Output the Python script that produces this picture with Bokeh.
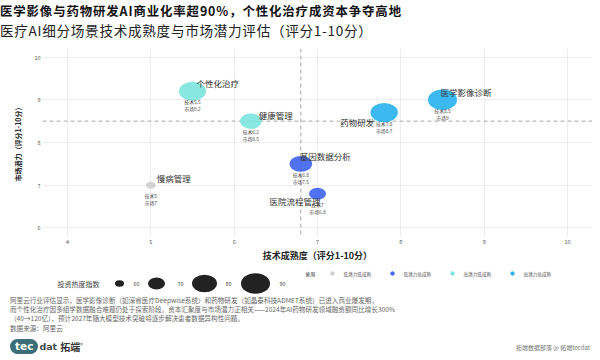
import numpy as np
from bokeh.plotting import figure
from bokeh.models import FixedTicker, Span, ColumnDataSource, LinearInterpolator, Range1d, Div
from bokeh.transform import transform, factor_cmap
from bokeh.layouts import column
from bokeh.embed import file_html
from bokeh.resources import INLINE
from bokeh.core.properties import value

# ---------------- data ----------------
scenes = ["医学影像诊断", "药物研发", "个性化治疗", "健康管理", "基因数据分析", "医院流程管理", "慢病管理"]
tech = [8.5, 7.8, 5.5, 6.2, 6.8, 7.0, 5.0]
market = [9.0, 8.7, 9.2, 8.5, 7.5, 6.8, 7.0]
invest = [90, 86, 85, 76, 77, 70, 61]
quadrant = ["高潜力高成熟", "高潜力高成熟", "高潜力低成熟", "高潜力低成熟",
            "低潜力高成熟", "低潜力高成熟", "低潜力低成熟"]
quad_levels = ["低潜力低成熟", "低潜力高成熟", "高潜力低成熟", "高潜力高成熟"]
size_breaks = [60, 70, 80, 90]
x_ticks = [4, 5, 6, 7, 8, 9, 10]
y_ticks = [6, 7, 8, 9, 10]

title = "医学影像与药物研发AI商业化率超90%，个性化治疗成资本争夺高地"
subtitle = "医疗AI细分场景技术成熟度与市场潜力评估（评分1-10分）"
x_label = "技术成熟度（评分1-10分）"
y_label = "市场潜力（评分1-10分）"
size_title = "投资热度指数"
quad_title = "象限"
footer_lines = [
    "阿里云行业评估显示，医学影像诊断（如深睿医疗Deepwise系统）和药物研发（如晶泰科技ADMET系统）已进入商业爆发期，",
    "而个性化治疗因多组学数据融合难题仍处于探索阶段。资本汇聚度与市场潜力正相关——2024年AI药物研发领域融资额同比增长300%",
    "（40→120亿），预计2027年随大模型技术突破将逐步解决患者数据异构性问题。",
    "数据来源：阿里云",
]
credit = "拓端数据部落 @ 拓端tecdat"

# ---------------- styles ----------------
FONT = "Noto Sans CJK SC"
quad_colors = ["#CFCFCF", "#4166F2", "#7EE6DE", "#2DB3F0"]
w_map = LinearInterpolator(x=size_breaks, y=[9, 17, 25, 29])
h_map = LinearInterpolator(x=size_breaks, y=[6.5, 12, 17.5, 20.5])
name_dx = [-2, -10, 4, 8, -1, 3, 6]
name_dy = [-8, 9, -8, -6, -8, 7, -7]
name_align = ["left", "right", "left", "left", "left", "right", "left"]
W = 592
BL, BR = 42, 0          # left / right borders shared by the plot figures

src = ColumnDataSource(dict(
    scene=scenes, tech=tech, market=market, invest=invest, quadrant=quadrant,
    t_lab=[f"技术{t:g}" for t in tech], m_lab=[f"市场{m:g}" for m in market],
    dx=name_dx, dy=name_dy, align=name_align,
))


def line_div(top, h, size, txt, color, weight="normal", left=0, align="left", extra=""):
    pos = f"left:{left}px;" if align == "left" else f"right:{left}px;"
    return (f'<div style="position:absolute;{pos}top:{top}px;height:{h}px;line-height:{h}px;'
            f'font-size:{size}px;font-weight:{weight};color:{color};white-space:nowrap;{extra}">'
            f'{txt}</div>')


def box(inner, h):
    return (f'<div style="position:relative;width:{W}px;height:{h}px;overflow:visible;'
            f'font-family:\'{FONT}\',sans-serif;">{inner}</div>')


# ---------------- header ----------------
hdr_html = box(line_div(4, 14, 12.4, title, "#111111", "bold", extra="letter-spacing:0.9px;")
               + line_div(23, 14, 13.6, subtitle, "#222222", extra="letter-spacing:0.7px;"), 48)
hdr = Div(text=hdr_html, width=W, height=48, margin=0)

# ---------------- main plot ----------------
p = figure(width=W, height=220, x_range=Range1d(3.7, 10.3), y_range=Range1d(5.8, 10.2),
           output_backend="svg", toolbar_location=None,
           min_border_left=BL, min_border_right=BR, min_border_top=0, min_border_bottom=32)
p.outline_line_color = None
p.xaxis.ticker = FixedTicker(ticks=x_ticks)
p.yaxis.ticker = FixedTicker(ticks=y_ticks)
p.xgrid.ticker = FixedTicker(ticks=x_ticks)
p.ygrid.ticker = FixedTicker(ticks=y_ticks)
p.grid.grid_line_color = "#E8E8E8"
p.grid.grid_line_width = 0.8
for ax in p.axis:
    ax.axis_line_color = None
    ax.major_tick_line_color = None
    ax.minor_tick_line_color = None
    ax.major_tick_out = 0
    ax.major_tick_in = 0
    ax.minor_tick_out = 0
    ax.minor_tick_in = 0
    ax.major_label_text_font = FONT
    ax.major_label_text_font_size = "5.5px"
    ax.major_label_text_color = "#555555"
    ax.major_label_standoff = 2
    ax.axis_label_text_font = FONT
    ax.axis_label_text_font_style = "bold"
    ax.axis_label_text_color = "#222222"
p.xaxis.axis_label = x_label
p.xaxis.axis_label_text_font_size = "9px"
p.xaxis.axis_label_standoff = 2
p.yaxis.axis_label = y_label
p.yaxis.axis_label_text_font_size = "7px"
p.yaxis.axis_label_standoff = 8

for loc, dim in ((float(np.median(tech)), "height"), (float(np.median(market)), "width")):
    p.add_layout(Span(location=loc, dimension=dim, line_color="#A8A8A8",
                      line_dash="4 3", line_width=1, level="underlay"))

p.ellipse(x="tech", y="market", width=transform("invest", w_map),
          height=transform("invest", h_map), width_units="screen", height_units="screen",
          fill_color=factor_cmap("quadrant", quad_colors, quad_levels),
          line_color=None, fill_alpha=0.92, source=src)
p.text(x="tech", y="market", text="t_lab", y_offset=10.5, text_align="center",
       text_baseline="middle", text_font=value(FONT), text_font_size="4.8px",
       text_color="#444444", source=src)
p.text(x="tech", y="market", text="m_lab", y_offset=17.5, text_align="center",
       text_baseline="middle", text_font=value(FONT), text_font_size="4.8px",
       text_color="#444444", source=src)
p.text(x="tech", y="market", text="scene", x_offset="dx", y_offset="dy",
       text_align="align", text_baseline="middle", text_font=value(FONT),
       text_font_size="8.5px", text_color="#333333", source=src)

# ---------------- legend (frame aligned with the plot; x in page pixels) ----------------
lg = figure(width=W, height=26, x_range=Range1d(BL, W - BR),
            y_range=Range1d(26, 0), output_backend="svg", toolbar_location=None,
            x_axis_location=None, y_axis_location=None,
            min_border_left=BL, min_border_right=BR, min_border_top=0, min_border_bottom=0)
lg.grid.visible = False
lg.outline_line_color = None
lg.text(x=[57], y=[15], text=[size_title], text_font=value(FONT), text_font_size="7px",
        text_baseline="middle", text_color="#444444")
bx = [119, 156, 204, 255]
lsrc = ColumnDataSource(dict(x=bx, y=[15] * 4, v=size_breaks,
                             lx=[136, 180, 228, 282],
                             lab=[str(s) for s in size_breaks]))
lg.ellipse(x="x", y="y", width=transform("v", w_map), height=transform("v", h_map),
           width_units="screen", height_units="screen", fill_color="#222222",
           line_color=None, source=lsrc)
lg.text(x="lx", y="y", text="lab", text_align="center", text_baseline="middle",
        text_font=value(FONT), text_font_size="5.5px", text_color="#444444", source=lsrc)
lg.text(x=[305], y=[5], text=[quad_title], text_font=value(FONT), text_font_size="5px",
        text_baseline="middle", text_color="#444444")
qx = [332, 392, 452, 512]
qsrc = ColumnDataSource(dict(x=qx, tx=[q + 11 for q in qx], y=[5] * 4,
                             q=quad_levels, c=quad_colors))
lg.scatter(x="x", y="y", color="c", size=3.5, source=qsrc)
lg.text(x="tx", y="y", text="q", text_baseline="middle", text_font=value(FONT),
        text_font_size="4.6px", text_color="#555555", source=qsrc)

# ---------------- footer ----------------
foot_inner = "".join(line_div(c - 4.5, 9, 6.6, t, "#666666", left=10)
                     for c, t in zip([6, 15, 24, 34], footer_lines))
logo = ('<div style="position:absolute;left:10px;top:43px;height:16px;line-height:16px;'
        'white-space:nowrap;">'
        '<span style="display:inline-block;background:#3B6E78;color:white;border-radius:8px;'
        'padding:0 5px;height:15px;line-height:15px;font-family:\'DejaVu Sans\';font-size:10.5px;'
        'font-weight:bold;vertical-align:middle;">tec</span>'
        '<span style="font-family:\'DejaVu Sans\';font-size:9.5px;font-weight:bold;color:#3D4A4F;'
        'vertical-align:middle;margin-left:1px;">dat</span>'
        '<span style="font-size:10px;font-weight:bold;color:#333333;vertical-align:middle;'
        'margin-left:3px;">拓端</span>'
        '<span style="font-size:5px;color:#333333;vertical-align:top;">®</span></div>')
foot_inner += logo + line_div(48.5, 9, 6, credit, "#777777", left=2, align="right")
ft = Div(text=box(foot_inner, 58), width=W, height=58, margin=0)

layout = column(hdr, p, lg, ft, spacing=0)
open("out.html", "w").write(file_html(layout, INLINE))
